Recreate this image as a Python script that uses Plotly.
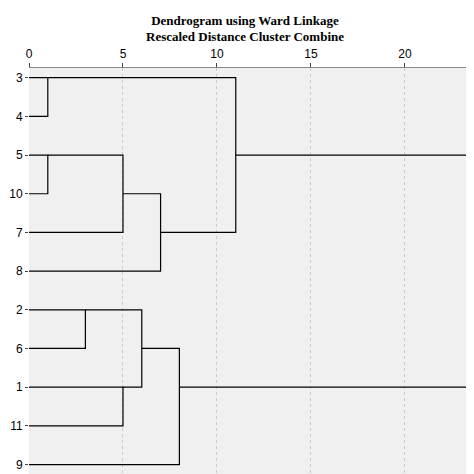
import plotly.graph_objs as go

LEAVES = ['3', '4', '5', '10', '7', '8', '2', '6', '1', '11', '9']
# merges: (row of child a, x of child a, row of child b, x of child b, merge distance, row of output line)
MERGES = [
    (0, 0, 1, 0, 1, 0),
    (2, 0, 3, 0, 1, 2),
    (2, 1, 4, 0, 5, 3),
    (3, 5, 5, 0, 7, 4),
    (0, 1, 4, 7, 11, 2),
    (6, 0, 7, 0, 3, 6),
    (8, 0, 9, 0, 5, 8),
    (6, 3, 8, 5, 6, 7),
    (7, 6, 10, 0, 8, 8),
]
ROOTS = [(2, 11), (8, 8)]
X_MAX = 24.1

xs, ys = [], []
for ya, xa, yb, xb, d, yo in MERGES:
    xs += [xa, d, d, xb, None]
    ys += [ya, ya, yb, yb, None]
for yo, d in ROOTS:
    xs += [d, X_MAX, None]
    ys += [yo, yo, None]

fig = go.Figure(go.Scatter(x=xs, y=ys, mode='lines',
                           line=dict(color='black', width=1.2),
                           hoverinfo='skip', showlegend=False))
fig.update_layout(
    width=474, height=474,
    title=dict(text='<b>Dendrogram using Ward Linkage<br>Rescaled Distance Cluster Combine</b>',
               x=0.5, y=0.965, yanchor='top',
               font=dict(family='Liberation Serif', size=13, color='black')),
    margin=dict(l=21, r=0, t=60, b=2),
    plot_bgcolor='#f0f0f0', paper_bgcolor='white',
    font=dict(family='Liberation Sans', size=12, color='black'),
)
fig.update_xaxes(side='top', range=[0, X_MAX], tickvals=[0, 5, 10, 15, 20],
                 showgrid=True, gridcolor='#cccccc', griddash='dot', gridwidth=1,
                 zeroline=False, ticks='outside', ticklen=4, showline=True,
                 linecolor='#888')
fig.update_yaxes(range=[10.4, -0.25], tickvals=list(range(len(LEAVES))),
                 ticktext=LEAVES, showgrid=False, zeroline=False,
                 ticks='outside', ticklen=3)
fig.write_html('out.html')
